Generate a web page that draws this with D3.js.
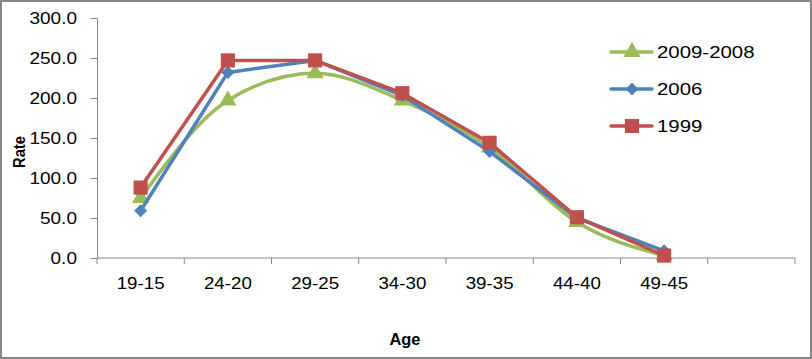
<!DOCTYPE html>
<html>
<head>
<meta charset="utf-8">
<script src="https://cdn.jsdelivr.net/npm/d3@7"></script>
<style>
  body { margin: 0; background: #fff; }
  svg { display: block; font-family: "Liberation Sans", Arial, sans-serif; }
</style>
</head>
<body>
<div id="chart"></div>
<script>
// chart size and plot margins
const width = 812;
const height = 359;
const margin = {left: 97, right: 17, top: 18, bottom: 101};

// data
const ages = ["19-15", "24-20", "29-25", "34-30", "39-35", "44-40", "49-45", ""];
const seriesNames = ["2009-2008", "2006", "1999"];
const values2009 = [75, 197, 231, 197, 138, 45, 3];
const values2006 = [59, 232, 247, 203, 133, 50, 9];
const values1999 = [88, 247, 247, 206, 144, 51, 3];
const yTicks = [0, 50, 100, 150, 200, 250, 300];

const series = [
  {name: seriesNames[0], values: values2009, color: "#9BBB59", marker: "triangle", curve: d3.curveMonotoneX},
  {name: seriesNames[1], values: values2006, color: "#4F81BD", marker: "diamond", curve: d3.curveLinear},
  {name: seriesNames[2], values: values1999, color: "#C0504D", marker: "square", curve: d3.curveLinear}
];

const svg = d3.select("#chart")
  .append("svg")
  .attr("width", width)
  .attr("height", height);

// outer border
svg.append("rect")
  .attr("x", 1).attr("y", 1)
  .attr("width", width - 2).attr("height", height - 2)
  .attr("fill", "#fff")
  .attr("stroke", "#868686")
  .attr("stroke-width", 2);

const xScale = d3.scaleBand()
  .domain(ages)
  .range([margin.left, width - margin.right]);

const yScale = d3.scaleLinear()
  .domain([0, 300])
  .range([height - margin.bottom, margin.top]);

// text in the picture is a bit wider than the font, so stretch it
function wideText(g, x, y, str, size, sx, anchor) {
  return g.append("text")
    .attr("transform", `translate(${x},${y}) scale(${sx},1)`)
    .attr("text-anchor", anchor)
    .attr("font-size", size + "px")
    .attr("fill", "#000")
    .text(str);
}

// y axis
const yAxis = svg.append("g")
  .attr("transform", `translate(${margin.left},0)`)
  .call(d3.axisLeft(yScale).tickValues(yTicks).tickSize(6).tickSizeOuter(0).tickFormat(""));
yAxis.select(".domain").attr("stroke", "#868686");
yAxis.selectAll(".tick line").attr("stroke", "#868686");
yTicks.forEach(t => {
  wideText(svg, margin.left - 20, yScale(t) + 6, d3.format(".1f")(t), 17, 1.12, "end");
});

// x axis with ticks on the band edges
const xAxisG = svg.append("g")
  .attr("transform", `translate(0,${height - margin.bottom})`);
xAxisG.append("line")
  .attr("x1", margin.left).attr("x2", width - margin.right)
  .attr("stroke", "#868686");
xAxisG.selectAll(".edge")
  .data(ages.concat(["end"]))
  .enter()
  .append("line")
  .attr("class", "edge")
  .attr("x1", (d, i) => margin.left + i * xScale.bandwidth())
  .attr("x2", (d, i) => margin.left + i * xScale.bandwidth())
  .attr("y1", 0).attr("y2", 6)
  .attr("stroke", "#868686");
ages.forEach(a => {
  if (a) wideText(xAxisG, xScale(a) + xScale.bandwidth() / 2, 31, a, 17, 1.1, "middle");
});

// axis titles
svg.append("text")
  .attr("transform", `translate(25,152) rotate(-90)`)
  .attr("text-anchor", "middle")
  .attr("font-size", "16px")
  .attr("font-weight", "bold")
  .attr("textLength", 32)
  .attr("lengthAdjust", "spacingAndGlyphs")
  .text("Rate");

svg.append("text")
  .attr("x", 405)
  .attr("y", 345)
  .attr("text-anchor", "middle")
  .attr("font-size", "16px")
  .attr("font-weight", "bold")
  .attr("textLength", 31)
  .attr("lengthAdjust", "spacingAndGlyphs")
  .text("Age");

const cx = i => xScale(ages[i]) + xScale.bandwidth() / 2;

const symbolFor = {
  triangle: d3.symbol().type(d3.symbolTriangle).size(130),
  diamond: d3.symbol().type(d3.symbolSquare).size(85),
  square: d3.symbol().type(d3.symbolSquare).size(200)
};
const rotFor = {triangle: 0, diamond: 45, square: 0};

// lines and markers
series.forEach(s => {
  const line = d3.line()
    .x((d, i) => cx(i))
    .y(d => yScale(d))
    .curve(s.curve);

  svg.append("path")
    .datum(s.values)
    .attr("fill", "none")
    .attr("stroke", s.color)
    .attr("stroke-width", 3.5)
    .attr("stroke-linejoin", "round")
    .attr("d", line);

  svg.selectAll(".m-" + s.marker)
    .data(s.values)
    .enter()
    .append("path")
    .attr("class", "m-" + s.marker)
    .attr("transform", (d, i) => `translate(${cx(i)},${yScale(d)}) rotate(${rotFor[s.marker]})`)
    .attr("d", symbolFor[s.marker]())
    .attr("fill", s.color);
});

// legend
const legend = svg.append("g").attr("transform", "translate(611,52)");
series.forEach((s, i) => {
  const g = legend.append("g").attr("transform", `translate(0,${i * 37})`);
  g.append("line")
    .attr("x1", 0).attr("x2", 41)
    .attr("stroke", s.color)
    .attr("stroke-width", 3.5)
    .attr("stroke-linecap", "round");
  g.append("path")
    .attr("transform", `translate(21,0) rotate(${rotFor[s.marker]})`)
    .attr("d", symbolFor[s.marker]())
    .attr("fill", s.color);
  wideText(g, 46, 6, s.name, 17, 1.2, "start");
});
</script>
</body>
</html>
